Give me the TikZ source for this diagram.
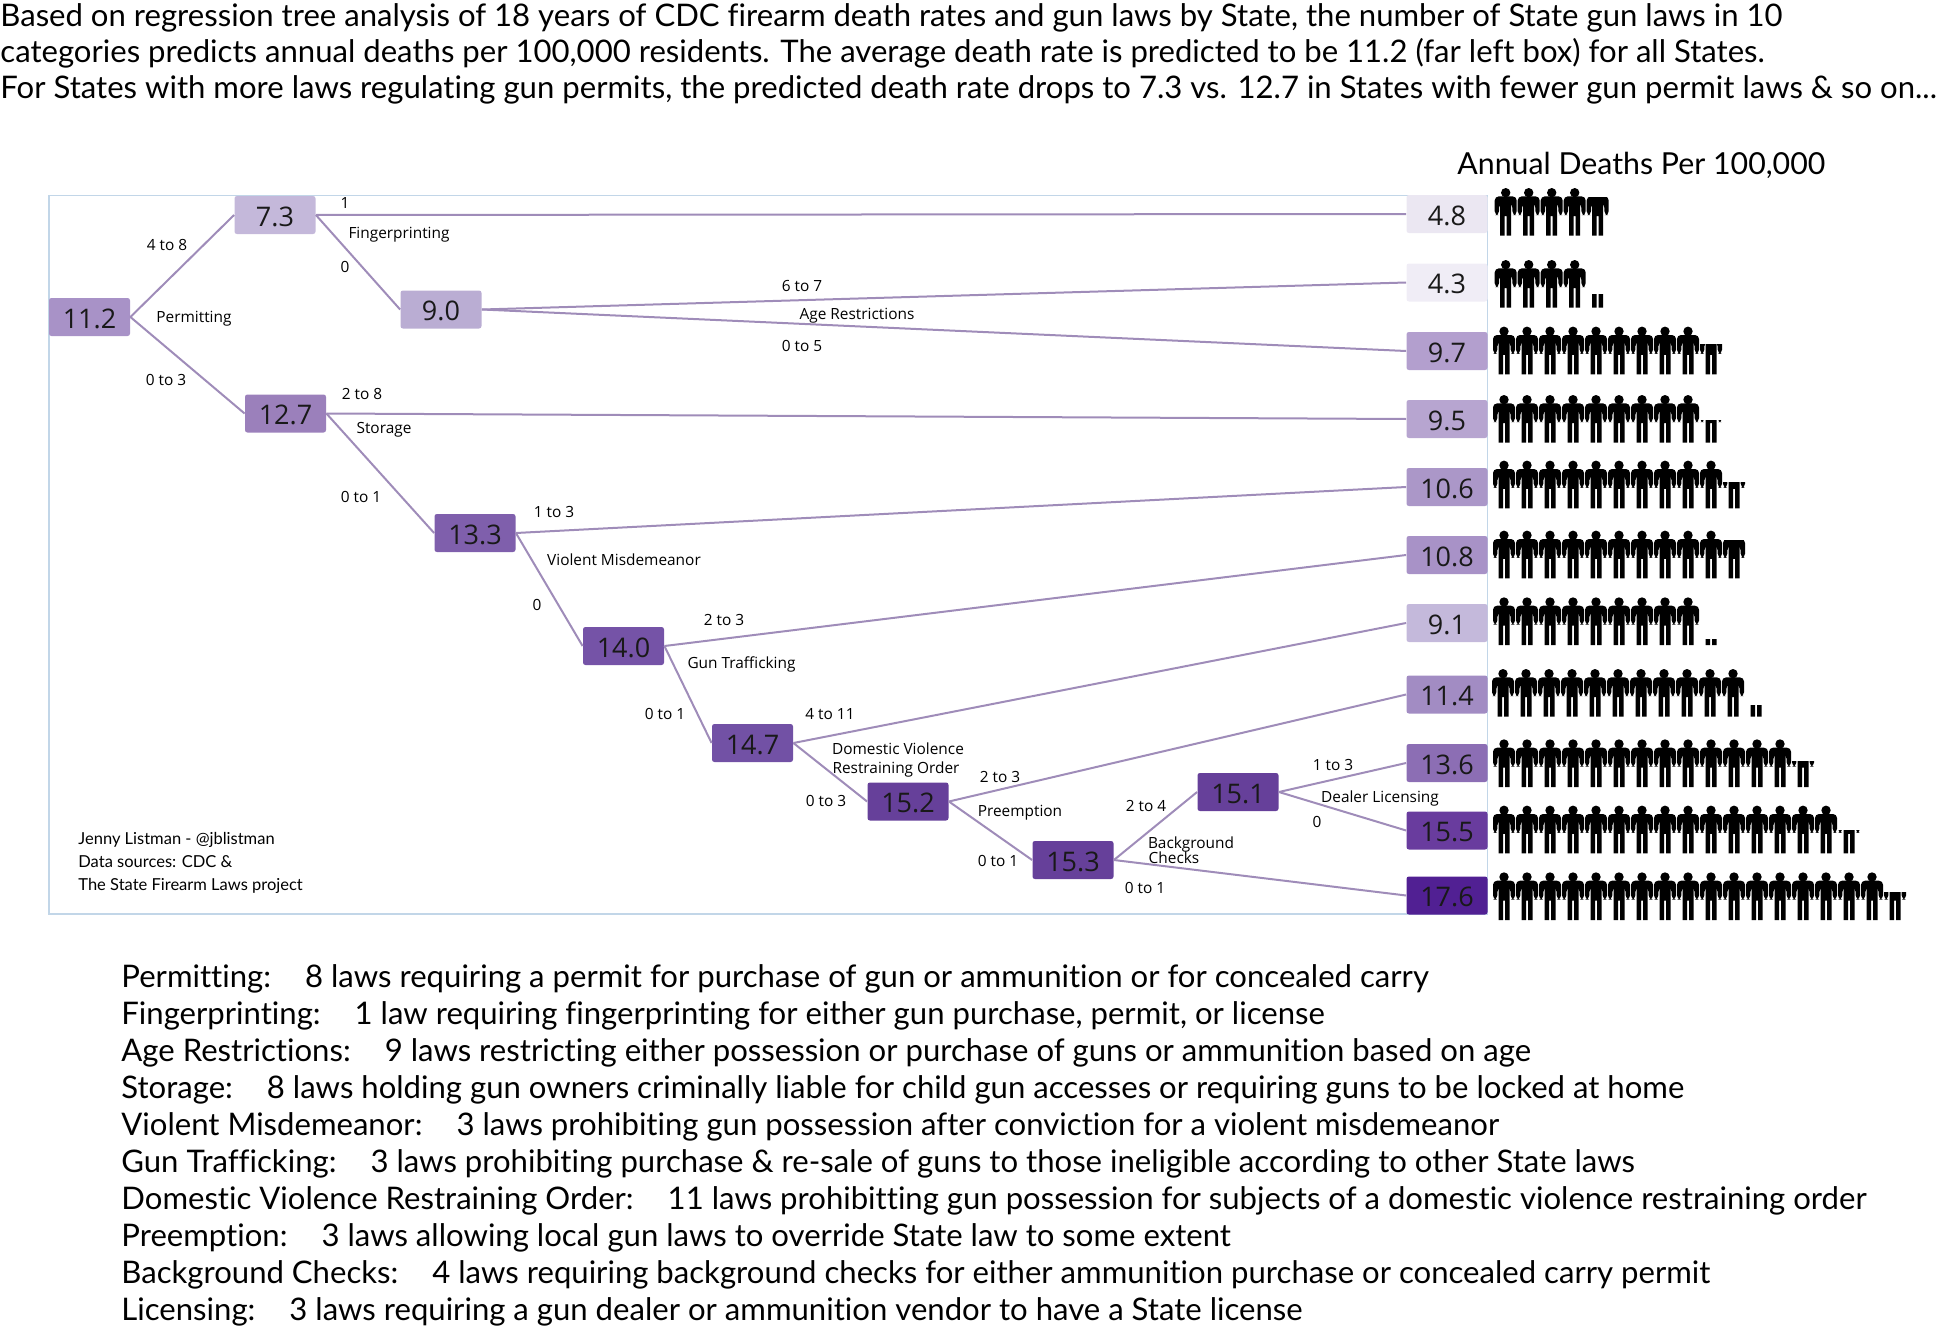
\documentclass[tikz,border=0pt]{standalone}
\usepackage{fontspec}
\setmainfont{Lato}[Ligatures=NoCommon]
\newfontfamily\treefont{Open Sans}
\usepackage{tikz}

\definecolor{boxA}{HTML}{A892C7}
\definecolor{boxB}{HTML}{C4B8DA}
\definecolor{boxC}{HTML}{BAADD3}
\definecolor{boxD}{HTML}{9B80BB}
\definecolor{boxE}{HTML}{7F5FAC}
\definecolor{boxF}{HTML}{7553A7}
\definecolor{boxG}{HTML}{7251A5}
\definecolor{boxH}{HTML}{66409A}
\definecolor{leafA}{HTML}{EBE7F2}
\definecolor{leafB}{HTML}{F0EDF6}
\definecolor{leafC}{HTML}{B39FCE}
\definecolor{leafD}{HTML}{B7A5D0}
\definecolor{leafE}{HTML}{AB97C8}
\definecolor{leafF}{HTML}{A892C7}
\definecolor{leafG}{HTML}{C4B9DB}
\definecolor{leafH}{HTML}{A28CC3}
\definecolor{leafI}{HTML}{8C6EB4}
\definecolor{leafJ}{HTML}{693C9E}
\definecolor{leafK}{HTML}{512093}
\definecolor{branchline}{HTML}{9F8CB9}
\definecolor{frameline}{HTML}{C2D6E8}

\tikzset{
  valbox/.style={rounded corners=1.2pt,minimum width=40.5pt,minimum height=19pt,inner sep=0pt,font=\treefont\fontsize{13.5}{15}\selectfont,text=black!90},
  branch/.style={draw=branchline,line width=1pt},
  edgelab/.style={inner sep=0pt,yshift=-0.6pt,font=\treefont\fontsize{7.7}{10}\selectfont},
  bigline/.style={anchor=base west,inner sep=0pt,font=\fontsize{15.55}{18}\selectfont},
  headline/.style={anchor=base west,inner sep=0pt,font=\fontsize{15.15}{18}\selectfont},
  creditline/.style={anchor=base west,inner sep=0pt,font=\fontsize{8.25}{10}\selectfont}
}

\newcommand{\figperson}{
  \fill (0,-43) circle (2.35pt);
  \fill[rounded corners=2pt] (-11,-20.5) -- (-11,-39.3) -- (11,-39.3) -- (11,-20.5) -- (6.7,-20.5) -- (6.7,-32) -- (-6.7,-32) -- (-6.7,-20.5) -- cycle;
  \fill (-5.5,-33) -- (5.5,-33) -- (5.5,0) -- (1,0) -- (1,-19.5) -- (-1,-19.5) -- (-1,0) -- (-5.5,0) -- cycle;
}

\begin{document}
\begin{tikzpicture}[x=0.5pt,y=-0.5pt]
\useasboundingbox (0,0) rectangle (1944,1327);

\node[bigline] (introa) at (0,26.5) {Based on regression tree analysis of 18 years of CDC firearm death rates and gun laws by State, the number of State gun laws in 10};
\node[bigline] (introb) at (0,62.5) {categories predicts annual deaths per 100,000 residents. The average death rate is predicted to be 11.2 (far left box) for all States.};
\node[bigline] (introc) at (0,98.5) {For States with more laws regulating gun permits, the predicted death rate drops to 7.3 vs. 12.7 in States with fewer gun permit laws \& so on...};
\node[headline] (deaths) at (1457,175) {Annual Deaths Per 100,000};

\draw[frameline,line width=0.55pt] (49,195.5) rectangle (1487.5,914);

\foreach \name/\x/\y/\val/\col in {
  n112/89.5/317/11.2/boxA,
  n73/275/215/7.3/boxB,
  n90/441/309.5/9.0/boxC,
  n127/285.5/413.5/12.7/boxD,
  n133/475/533/13.3/boxE,
  n140/623.5/646/14.0/boxF,
  n147/752.5/743/14.7/boxG,
  n152/908/801.5/15.2/boxH,
  n153/1073/860/15.3/boxH,
  n151/1238/792/15.1/boxH,
  l48/1447/214/4.8/leafA,
  l43/1447/282.5/4.3/leafB,
  l97/1447/351/9.7/leafC,
  l95/1447/419/9.5/leafD,
  l106/1447/487/10.6/leafE,
  l108/1447/555/10.8/leafF,
  l91/1447/623/9.1/leafG,
  l114/1447/694.5/11.4/leafH,
  l136/1447/763/13.6/leafI,
  l155/1447/830.5/15.5/leafJ,
  l176/1447/895.5/17.6/leafK}
\node[valbox,fill=\col] (\name) at (\x,\y) {\raisebox{-5.7pt}[0pt][0pt]{\val}};

\foreach \a/\b in {n112/n73,n112/n127,n73/l48,n73/n90,n90/l43,n90/l97,n127/l95,n127/n133,n133/l106,n133/n140,n140/l108,n140/n147,n147/l91,n147/n152,n152/l114,n152/n153,n153/n151,n153/l176,n151/l136,n151/l155}
\draw[branch] (\a.east)--(\b.west);

\foreach \x/\y/\txt [count=\i] in {
  167/244/4 to 8,194/317/Permitting,166/379/0 to 3,
  345/202/1,399/233/Fingerprinting,345/266/0,
  802/285/6 to 7,857/314/Age Restrictions,802/345/0 to 5,
  362/393/2 to 8,384/429/Storage,361/496/0 to 1,
  554/511/1 to 3,624/559/Violent Misdemeanor,537/604/0,
  724/619/2 to 3,741.5/663/Gun Trafficking,665/713/0 to 1,
  830/713/4 to 11,898/748/Domestic Violence,896/768/Restraining Order,826/800/0 to 3,
  1000/776/2 to 3,1020/811/Preemption,998/860/0 to 1,
  1146/805/2 to 4,1191/843/Background,1174/857/Checks,1145/887/0 to 1,
  1333/764/1 to 3,1380/797/Dealer Licensing,1317/821/0}
\node[edgelab] (lab\i) at (\x,\y) {\txt};

\node[creditline] (creda) at (78,844) {Jenny Listman - @jblistman};
\node[creditline] (credb) at (78,867) {Data sources: CDC \&};
\node[creditline] (credc) at (78,890) {The State Firearm Laws project};

\foreach \fy/\sx/\whole/\part in {
  235.7/1505.7/4/.81,307.7/1505.7/4/.27,374.3/1504/9/.62,442.7/1504/9/.47,
  508.3/1504/10/.54,578.3/1504/10/.8,645/1504/9/.11,716.7/1503/11/.24,
  787/1504/13/.53,853.3/1504/15/.49,920/1504/17/.59}
{
  \foreach \k in {1,...,\whole}
  {
    \begin{scope}[shift={(\sx+23*\k-23,\fy)}]
      \figperson
    \end{scope}
  }
  \begin{scope}[shift={(\sx+23*\whole,\fy)}]
    \clip (-12,0) rectangle (12,-47.3*\part);
    \figperson
  \end{scope}
}

\foreach \y/\head/\txt [count=\i] in {
  987/Permitting:/8 laws requiring a permit for purchase of gun or ammunition or for concealed carry,
  1024/Fingerprinting:/1 law requiring fingerprinting for either gun purchase{,} permit{,} or license,
  1061/Age Restrictions:/9 laws restricting either possession or purchase of guns or ammunition based on age,
  1098/Storage:/8 laws holding gun owners criminally liable for child gun accesses or requiring guns to be locked at home,
  1135/Violent Misdemeanor:/3 laws prohibiting gun possession after conviction for a violent misdemeanor,
  1172/Gun Trafficking:/3 laws prohibiting purchase \& re-sale of guns to those ineligible according to other State laws,
  1209/Domestic Violence Restraining Order:/11 laws prohibitting gun possession for subjects of a domestic violence restraining order,
  1246/Preemption:/3 laws allowing local gun laws to override State law to some extent,
  1283/Background Checks:/4 laws requiring background checks for either ammunition purchase or concealed carry permit,
  1320/Licensing:/3 laws requiring a gun dealer or ammunition vendor to have a State license}
\node[bigline] (law\i) at (121,\y) {\head\hspace{17pt}\txt};

\end{tikzpicture}
\end{document}
